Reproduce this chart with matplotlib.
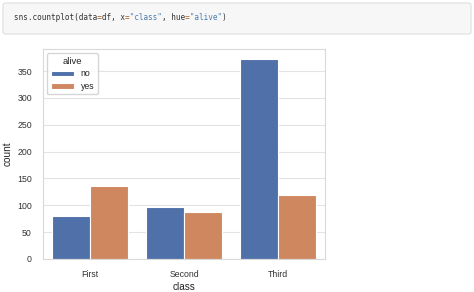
import matplotlib.pyplot as plt
import seaborn as sns
from matplotlib.patches import FancyBboxPatch
import numpy as np

# Counts (titanic: class x alive)
classes = ["First", "Second", "Third"]
alive_levels = ["no", "yes"]
count_no = [80, 97, 372]
count_yes = [136, 87, 119]

code_line = 'sns.countplot(data=df, x="class", hue="alive")'

sns.set_theme(style="whitegrid")
plt.rcParams['font.family'] = ['Liberation Sans', 'DejaVu Sans']

fig = plt.figure(figsize=(4.74, 2.92), dpi=100)

# Code cell above the chart
box = FancyBboxPatch((3 / 474, 1 - 34 / 292), 468 / 474, 31 / 292,
                     boxstyle="round,pad=0,rounding_size=0.006",
                     transform=fig.transFigure, facecolor="#f7f7f7",
                     edgecolor="#dedede", linewidth=0.8)
fig.patches.append(box)

# monospace: draw each colour layer as a full-length string with blanks elsewhere
in_str = False
layers = {"#333333": "", "#aa5d1f": "", "#4a7bb0": ""}
for ch in code_line:
    if ch == '"':
        col = "#4a7bb0"
        in_str = not in_str
    elif in_str:
        col = "#4a7bb0"
    elif ch == "=":
        col = "#aa5d1f"
    else:
        col = "#333333"
    for k in layers:
        layers[k] += ch if k == col else " "
for col, txt in layers.items():
    fig.text(14 / 474, 1 - 17 / 292, txt, family="DejaVu Sans Mono", fontsize=5.5,
             color=col, va="center", ha="left")

ax = fig.add_axes([43 / 474, 1 - 259 / 292, 282 / 474, 210 / 292])

x = np.arange(len(classes))
ax.bar(x - 0.2, count_no, width=0.4, color="#4f70a9", edgecolor="white",
       linewidth=0.8, label=alive_levels[0])
ax.bar(x + 0.2, count_yes, width=0.4, color="#cf8760", edgecolor="white",
       linewidth=0.8, label=alive_levels[1])

ax.set_xlim(-0.5, 2.5)
ax.set_ylim(0, 391)
ax.set_xticks(x)
ax.set_xticklabels(classes)
ax.set_yticks([0, 50, 100, 150, 200, 250, 300, 350])
ax.grid(color="#e3e3e3", linewidth=0.8)
ax.xaxis.grid(False)
ax.set_axisbelow(True)
ax.tick_params(labelsize=6.3, pad=2, colors="#333333")
ax.set_xlabel("class", fontsize=7.2, labelpad=2, color="#222222")
ax.set_ylabel("count", fontsize=7.2, labelpad=3, color="#222222")
for s in ax.spines.values():
    s.set_color("#d9d9d9")
    s.set_linewidth(0.8)

leg = ax.legend(title="alive", loc="upper left", fontsize=6.3, title_fontsize=6.8,
                handlelength=2.6, handleheight=0.6, borderpad=0.4, labelspacing=0.4)

fig.savefig("out.png", dpi=100)
